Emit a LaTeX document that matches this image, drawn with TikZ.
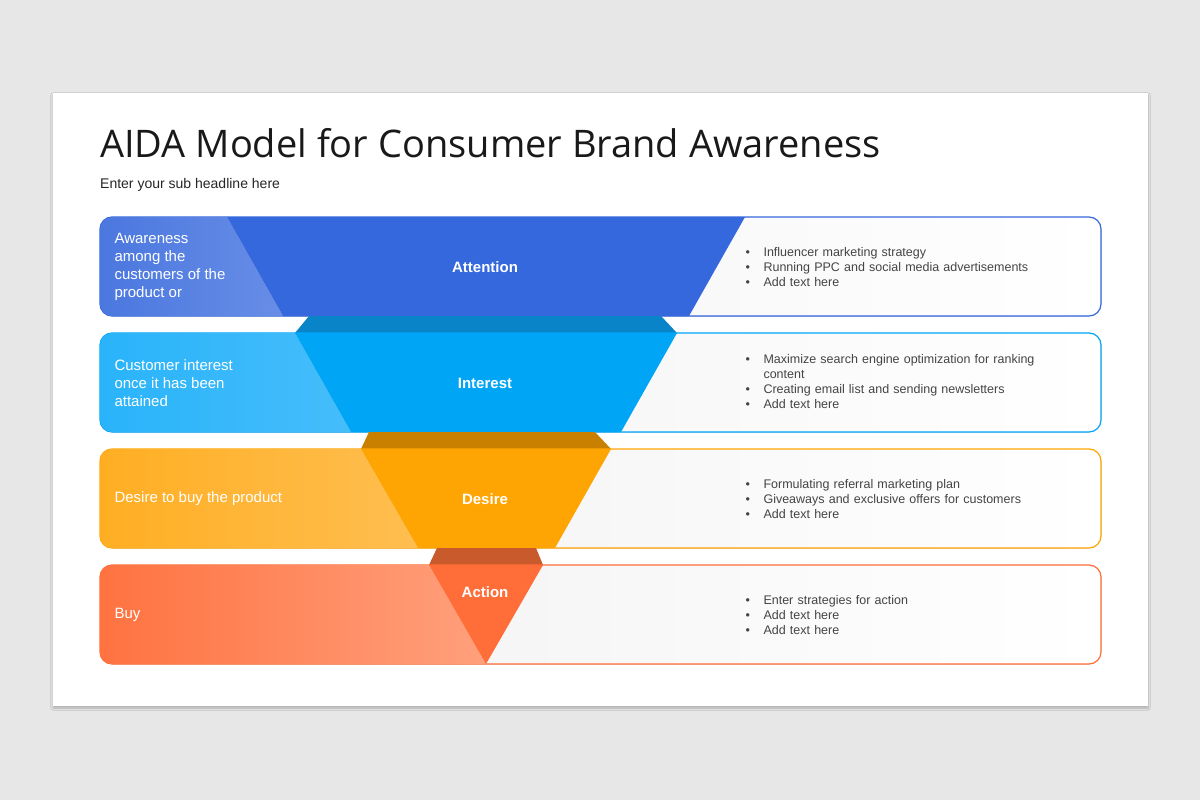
\documentclass[tikz,border=0pt]{standalone}
\usepackage{fontspec}
\setmainfont{Liberation Sans}
\newfontfamily\titlefont{Open Sans}
\usetikzlibrary{shadows.blur}
\definecolor{bgc}{HTML}{E8E7E8}
\definecolor{aD}{HTML}{3567DD}\definecolor{aL}{HTML}{4A77DF}\definecolor{aL2}{HTML}{678DE6}
\definecolor{iD}{HTML}{00A5F5}\definecolor{iL}{HTML}{29B3FA}\definecolor{iL2}{HTML}{45BDFB}\definecolor{iC}{HTML}{0A84C8}
\definecolor{dD}{HTML}{FFA503}\definecolor{dL}{HTML}{FFAE22}\definecolor{dL2}{HTML}{FFBE50}\definecolor{dC}{HTML}{C98000}
\definecolor{cD}{HTML}{FF6E38}\definecolor{cL}{HTML}{FF7240}\definecolor{cL2}{HTML}{FFA07C}\definecolor{cC}{HTML}{C95A2B}
\definecolor{txt}{HTML}{444444}
\tikzset{
 lefttxt/.style={anchor=west,text=white,font=\fontsize{15}{18}\selectfont,align=left},
 midtxt/.style={text=white,font=\bfseries\fontsize{15}{18}\selectfont},
 bultxt/.style={anchor=west,text=txt,font=\fontsize{12.5}{15}\selectfont,align=left,text width=290pt},
}
\newcommand{\rowbase}[3]{% top, bottom, color
 \fill[left color=black!6,right color=white,rounded corners=12pt] (100,#1) rectangle (1101,#2);
 \draw[#3,line width=1.2pt,rounded corners=12pt] (100,#1) rectangle (1101,#2);}
\begin{document}
\begin{tikzpicture}[x=1pt,y=-1pt]
\fill[bgc] (0,0) rectangle (1200,800);
\fill[white,blur shadow={shadow xshift=0pt,shadow yshift=-2pt,shadow blur steps=8,shadow opacity=25}] (53,93) rectangle (1148,706);
\node[anchor=base west,inner sep=0,font=\titlefont\fontsize{38}{44}\selectfont,text=black!90] (title) at (100,157) {AIDA Model for Consumer Brand Awareness};
\node[anchor=base west,inner sep=0,font=\fontsize{14}{16}\selectfont,text=black!85] (sub) at (100,188) {Enter your sub headline here};
% row 1
\rowbase{217}{316}{aD}
\begin{scope}
\clip[rounded corners=12pt] (100,217) rectangle (1101,316);
\shade[left color=aL,right color=aL2] (95,217) -- (227,217) -- (283,316) -- (95,316) -- cycle;
\fill[aD] (227,217) -- (745,217) -- (689,316) -- (283,316) -- cycle;
\end{scope}
% connector 1
\fill[iC] (309,316) -- (661,316) -- (677,333) -- (295,333) -- cycle;
% row 2
\rowbase{333}{432}{iD}
\begin{scope}
\clip[rounded corners=12pt] (100,333) rectangle (1101,432);
\shade[left color=iL,right color=iL2] (95,333) -- (295,333) -- (351,432) -- (95,432) -- cycle;
\fill[iD] (295,333) -- (677,333) -- (621,432) -- (351,432) -- cycle;
\end{scope}
\fill[dC] (369,432) -- (595,432) -- (611,449) -- (361,449) -- cycle;
% row 3
\rowbase{449}{548}{dD}
\begin{scope}
\clip[rounded corners=12pt] (100,449) rectangle (1101,548);
\shade[left color=dL,right color=dL2] (95,449) -- (361,449) -- (418,548) -- (95,548) -- cycle;
\fill[dD] (361,449) -- (611,449) -- (555,548) -- (418,548) -- cycle;
\end{scope}
\fill[cC] (437,548) -- (536,548) -- (543,565) -- (429,565) -- cycle;
% row 4
\rowbase{565}{664}{cD}
\begin{scope}
\clip[rounded corners=12pt] (100,565) rectangle (1101,664);
\shade[left color=cL,right color=cL2] (95,565) -- (429,565) -- (486,664) -- (95,664) -- cycle;
\fill[cD] (429,565) -- (543,565) -- (486,664) -- cycle;
\end{scope}
% texts
\node[lefttxt] (l1) at (111,266.5) {Awareness\\among the\\customers of the\\product or};
\node[lefttxt] (l2) at (111,383) {Customer interest\\once it has been\\attained};
\node[lefttxt] (l3) at (111,499) {Desire to buy the product};
\node[lefttxt] (l4) at (111,615) {Buy};
\node[midtxt] (m1) at (485,267) {Attention};
\node[midtxt] (m2) at (485,383) {Interest};
\node[midtxt] (m3) at (485,499) {Desire};
\node[midtxt] (m4) at (485,592) {Action};
\newcommand{\bl}[1]{\makebox[18pt][l]{\textbullet}#1}
\node[bultxt] (r1) at (742,267) {\bl{Influencer marketing strategy}\\\bl{Running PPC and social media advertisements}\\\bl{Add text here}};
\node[bultxt] (r2) at (742,382) {\bl{Maximize search engine optimization for ranking}\\\hspace*{18pt}content\\\bl{Creating email list and sending newsletters}\\\bl{Add text here}};
\node[bultxt] (r3) at (742,499) {\bl{Formulating referral marketing plan}\\\bl{Giveaways and exclusive offers for customers}\\\bl{Add text here}};
\node[bultxt] (r4) at (742,615) {\bl{Enter strategies for action}\\\bl{Add text here}\\\bl{Add text here}};
\end{tikzpicture}
\end{document}
